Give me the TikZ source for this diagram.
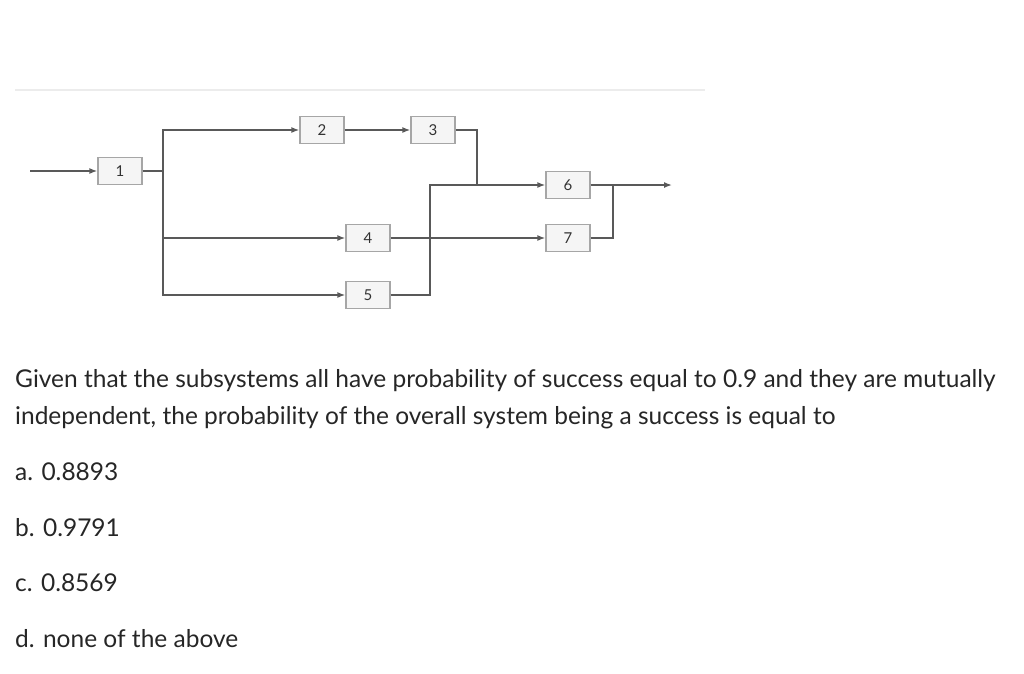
\documentclass[tikz,border=0pt]{standalone}
\usepackage{fontspec}
\setmainfont{Lato}
\usetikzlibrary{arrows.meta}
\begin{document}
\begin{tikzpicture}[x=1pt,y=-1pt,
  blk/.style={draw=gray!70,line width=1.3pt,fill=gray!8,minimum width=44pt,minimum height=27pt,inner sep=0pt,font=\fontsize{15}{17}\selectfont,text=black!80},
  ln/.style={draw=black!65,line width=1.5pt},
  ar/.style={ln,-{Latex[length=8pt,width=6pt]}},
  txt/.style={anchor=base west,inner sep=0pt,font=\fontsize{24.5}{28}\selectfont,text=black!85}]
\useasboundingbox (0,0) rectangle (1024,673);
\draw[gray!15,line width=1.5pt] (15,90) -- (705,90);
\node[blk] (b1) at (120,171) {1};
\node[blk] (b2) at (322,130) {2};
\node[blk] (b3) at (433,130) {3};
\node[blk] (b4) at (368,238) {4};
\node[blk] (b5) at (368,295) {5};
\node[blk] (b6) at (568,185) {6};
\node[blk] (b7) at (568,238) {7};
\coordinate (in) at (30,171);
\coordinate (out) at (672,185);
\draw[ar] (in) -- (b1);
\draw[ln] (b1.east) -- (163,171);
\draw[ar] (163,171) |- (b2);
\draw[ar] (163,171) |- (b4);
\draw[ar] (163,171) |- (b5);
\draw[ar] (b2) -- (b3);
\draw[ln] (b3.east) -- (477,130) -- (477,185);
\draw[ln] (b5.east) -- (430,295) -- (430,185) -- (477,185);
\draw[ar] (477,185) -- (b6);
\draw[ar] (b4) -- (b7);
\draw[ln] (b6.east) -- (613,185);
\draw[ln] (b7.east) -- (613,238) -- (613,185);
\draw[ar] (613,185) -- (out);
\node[txt] (t1) at (15,387) {Given that the subsystems all have probability of success equal to 0.9 and they are mutually};
\node[txt] (t2) at (15,424) {independent, the probability of the overall system being a success is equal to};
\node[txt] (a) at (15,480) {a. 0.8893};
\node[txt] (b) at (15,536) {b. 0.9791};
\node[txt] (c) at (15,591) {c. 0.8569};
\node[txt] (d) at (15,647) {d. none of the above};
\end{tikzpicture}
\end{document}
